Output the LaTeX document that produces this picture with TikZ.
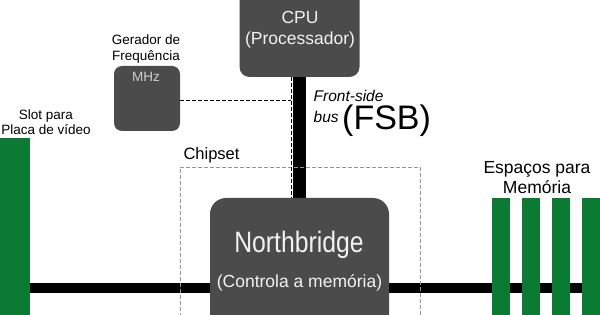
\documentclass[tikz,border=0pt]{standalone}
\usepackage{fontspec}
\setmainfont{Liberation Sans}
\newfontfamily\nbfont[FakeStretch=0.84]{Liberation Sans}
\usetikzlibrary{backgrounds}
\definecolor{boxgray}{HTML}{4B4B4B}
\definecolor{slotgreen}{HTML}{0B7B34}
\definecolor{chipline}{HTML}{A09488}
\definecolor{boxtext}{HTML}{F2F2F2}
\begin{document}
\begin{tikzpicture}[x=1pt,y=-1pt,
  chip/.style={fill=boxgray, draw=none, inner sep=0pt},
  slotbar/.style={fill=slotgreen, draw=none, inner sep=0pt, minimum width=18pt, minimum height=132pt},
  boxlabel/.style={text=boxtext, inner sep=0pt, align=center},
  plainlabel/.style={text=black, inner sep=0pt, align=center},
  busline/.style={line width=#1, black},
  ctrl/.style={dashed, dash pattern=on 4pt off 2pt, line width=0.9pt, black}
]
\useasboundingbox (0,0) rectangle (600,315);
\clip (0,0) rectangle (600,315);

% CPU
\node[chip, rounded corners=10pt, minimum width=120pt, minimum height=100pt] (cpu) at (299.5,27) {};
\node[boxlabel, font=\fontsize{17.5}{21}\selectfont] (cputxt) at (300,30) {CPU\\(Processador)};

% Frequency generator
\node[chip, rounded corners=8pt, minimum width=66pt, minimum height=65pt] (gen) at (147,98.5) {};
\node[boxlabel, text=boxtext!85!black, font=\fontsize{13.5}{15}\selectfont] (mhz) at (146,77) {MHz};
\node[plainlabel, font=\fontsize{13.5}{16}\selectfont] (gentxt) at (146,49) {Gerador de\\Frequência};

% Video slot
\node[fill=slotgreen, draw=none, inner sep=0pt, minimum width=30pt, minimum height=190pt] (vslot) at (15,233) {};
\node[plainlabel, font=\fontsize{13.5}{15}\selectfont] (vtxt) at (46,122.5) {Slot para\\Placa de vídeo};

% Chipset
\node[plainlabel, font=\fontsize{16.5}{18}\selectfont] (chiptxt) at (211.5,155) {Chipset};
\node[draw=chipline, dashed, dash pattern=on 4pt off 2pt, line width=0.9pt, inner sep=0pt, minimum width=240pt, minimum height=166pt] (chipset) at (300,250) {};

% Northbridge
\node[chip, rounded corners=16pt, minimum width=179pt, minimum height=132pt] (nb) at (299.5,264) {};
\node[boxlabel, font=\nbfont\fontsize{29.5}{32}\selectfont] (nbtxt) at (299,245) {Northbridge};
\node[boxlabel, font=\fontsize{17.5}{20}\selectfont] (nbsub) at (299.5,283) {(Controla a memória)};

% Memory slots
\node[slotbar] (mem1) at (501,264) {};
\node[slotbar] (mem2) at (531,264) {};
\node[slotbar] (mem3) at (561,264) {};
\node[slotbar] (mem4) at (591,264) {};
\node[plainlabel, font=\fontsize{17.5}{20}\selectfont] (memtxt) at (537,178) {Espaços para\\Memória};

% FSB label
\node[anchor=west, inner sep=0pt, font=\itshape\fontsize{15.5}{17}\selectfont] (fsb1) at (313.5,95.5) {Front-side};
\node[anchor=base west, inner sep=0pt, font=\itshape\fontsize{15.5}{17}\selectfont] (fsb2) at (313.5,123) {bus};
\node[anchor=base west, inner sep=0pt, font=\fontsize{34}{37}\selectfont] (fsb3) at (342,130) {(FSB)};

% connectors
\coordinate (bus) at (300,288);
\coordinate (fsbj) at (291,100);
\begin{scope}[on background layer]
  \draw[busline=13.5pt] (cpu.south) -- (nb.north);
  \draw[busline=10pt] (vslot.east |- bus) -- (mem4.west |- bus);
\end{scope}
\draw[ctrl] (gen.east |- fsbj) -- (fsbj);
\draw[ctrl] (cpu.south -| fsbj) -- (nb.north -| fsbj);
\end{tikzpicture}
\end{document}
